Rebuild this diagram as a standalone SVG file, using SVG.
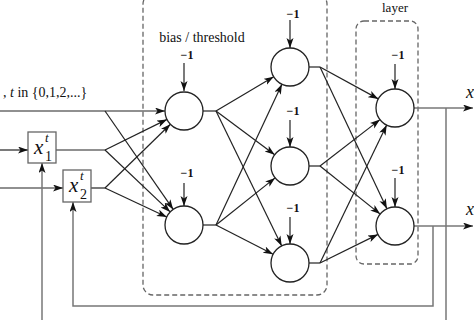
<svg xmlns="http://www.w3.org/2000/svg" width="474" height="320" viewBox="0 0 474 320">
<style>
.bg{fill:#fff}
.ln{stroke:#222;stroke-width:1.2;fill:none}
.fb{stroke:#777;stroke-width:1.5;fill:none}
.nd{fill:#fff;stroke:#222;stroke-width:1.3}
.box{fill:#fff;stroke:#666;stroke-width:1.3}
.dash{fill:none;stroke:#666;stroke-width:1.3;stroke-dasharray:5 3}
.t{font-family:"Liberation Serif","Times New Roman",serif;fill:#111}
.m{font-family:"Liberation Serif","Times New Roman",serif;font-weight:bold;font-size:12px;fill:#111;text-anchor:middle}
.it{font-style:italic}
</style>
<defs>
<marker id="ar" markerUnits="userSpaceOnUse" markerWidth="11" markerHeight="8" refX="10" refY="3.5" orient="auto">
<path d="M0,0 L10,3.5 L0,7 L2.5,3.5 z" fill="#111"/>
</marker>
</defs>
<rect class="bg" width="474" height="320"/>
<g id="groups">
<rect class="dash" x="143" y="-6" width="184" height="301" rx="10"/>
<rect class="dash" x="356" y="21" width="62" height="243" rx="8"/>
<text class="t" x="202" y="42" font-size="14" text-anchor="middle">bias / threshold</text>
<text class="t" x="395" y="12" font-size="13" text-anchor="middle">layer</text>
<text class="t" x="3" y="97" font-size="14">, <tspan class="it">t</tspan> in {0,1,2,...}</text>
</g>
<g id="connectors">
<line class="ln" x1="0" y1="111" x2="165" y2="111" marker-end="url(#ar)"/>
<line class="ln" x1="0" y1="150" x2="28" y2="150" marker-end="url(#ar)"/>
<line class="ln" x1="0" y1="188" x2="63" y2="188" marker-end="url(#ar)"/>
<polyline class="ln" points="56,150 105,150"/>
<polyline class="ln" points="91,188 105,188"/>
<line class="ln" x1="105" y1="150" x2="167" y2="119.4" marker-end="url(#ar)"/>
<line class="ln" x1="105" y1="188" x2="170.4" y2="124.3" marker-end="url(#ar)"/>
<line class="ln" x1="105" y1="111" x2="173.2" y2="209.4" marker-end="url(#ar)"/>
<line class="ln" x1="105" y1="150" x2="170.2" y2="211.9" marker-end="url(#ar)"/>
<line class="ln" x1="105" y1="188" x2="166.8" y2="217" marker-end="url(#ar)"/>
<polyline class="ln" points="203,111 216,111"/>
<polyline class="ln" points="203,225 216,225"/>
<line class="ln" x1="216" y1="111" x2="273.7" y2="76.7" marker-end="url(#ar)"/>
<line class="ln" x1="216" y1="225" x2="281.9" y2="84.2" marker-end="url(#ar)"/>
<line class="ln" x1="216" y1="111" x2="274.7" y2="154.7" marker-end="url(#ar)"/>
<line class="ln" x1="216" y1="225" x2="275.1" y2="177.9" marker-end="url(#ar)"/>
<line class="ln" x1="216" y1="111" x2="281.7" y2="245.9" marker-end="url(#ar)"/>
<line class="ln" x1="216" y1="225" x2="273.1" y2="254.3" marker-end="url(#ar)"/>
<polyline class="ln" points="309,67 320,67"/>
<polyline class="ln" points="309,166 320,166"/>
<polyline class="ln" points="309,263 320,263"/>
<line class="ln" x1="320" y1="67" x2="378.3" y2="98.9" marker-end="url(#ar)"/>
<line class="ln" x1="320" y1="166" x2="380" y2="119.6" marker-end="url(#ar)"/>
<line class="ln" x1="320" y1="263" x2="386.7" y2="125.1" marker-end="url(#ar)"/>
<line class="ln" x1="320" y1="67" x2="386.9" y2="208.8" marker-end="url(#ar)"/>
<line class="ln" x1="320" y1="166" x2="380.2" y2="214.1" marker-end="url(#ar)"/>
<line class="ln" x1="320" y1="263" x2="378" y2="234.4" marker-end="url(#ar)"/>
<line class="fb" x1="414" y1="108" x2="473" y2="108" marker-end="url(#ar)"/>
<line class="fb" x1="414" y1="226" x2="473" y2="226" marker-end="url(#ar)"/>
<polyline class="fb" points="446,108 446,320"/>
<polyline class="fb" points="433,226 433,306 73,306 73,202" marker-end="url(#ar)"/>
<line class="fb" x1="42" y1="320" x2="42" y2="163" marker-end="url(#ar)"/>
<line class="ln" x1="184" y1="63" x2="184" y2="91" marker-end="url(#ar)"/>
<line class="ln" x1="184" y1="183" x2="184" y2="206" marker-end="url(#ar)"/>
<line class="ln" x1="290" y1="20" x2="290" y2="48" marker-end="url(#ar)"/>
<line class="ln" x1="290" y1="120" x2="290" y2="147" marker-end="url(#ar)"/>
<line class="ln" x1="290" y1="217" x2="290" y2="244" marker-end="url(#ar)"/>
<line class="ln" x1="395" y1="64" x2="395" y2="89" marker-end="url(#ar)"/>
<line class="ln" x1="395" y1="178" x2="395" y2="207" marker-end="url(#ar)"/>
</g>
<g id="in1">
<rect class="box" x="28" y="132" width="28" height="31"/>
<text class="t it" x="34" y="154" font-size="21">x</text>
<text class="t it" x="45" y="142" font-size="13">t</text>
<text class="t" x="45" y="161" font-size="14">1</text>
</g>
<g id="in2">
<rect class="box" x="63" y="170" width="28" height="32"/>
<text class="t it" x="69" y="192" font-size="21">x</text>
<text class="t it" x="80" y="180" font-size="13">t</text>
<text class="t" x="80" y="199" font-size="14">2</text>
</g>
<g id="h1a"><circle class="nd" cx="184" cy="111" r="19"/><text class="m" x="187" y="59">−1</text></g>
<g id="h1b"><circle class="nd" cx="184" cy="225" r="19"/><text class="m" x="187" y="177">−1</text></g>
<g id="h2a"><circle class="nd" cx="290" cy="67" r="19"/><text class="m" x="293" y="18">−1</text></g>
<g id="h2b"><circle class="nd" cx="290" cy="166" r="19"/><text class="m" x="293" y="115">−1</text></g>
<g id="h2c"><circle class="nd" cx="290" cy="263" r="19"/><text class="m" x="293" y="212">−1</text></g>
<g id="o1"><circle class="nd" cx="395" cy="108" r="19"/><text class="m" x="398" y="59">−1</text></g>
<g id="o2"><circle class="nd" cx="395" cy="226" r="19"/><text class="m" x="398" y="174">−1</text></g>
<g id="outs">
<text class="t it" x="466" y="98" font-size="18">x</text>
<text class="t it" x="466" y="215" font-size="18">x</text>
</g>
</svg>
